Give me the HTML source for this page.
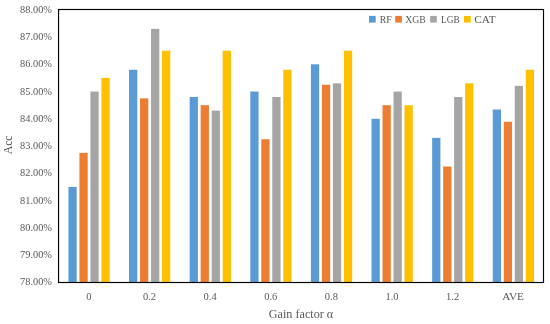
<!DOCTYPE html>
<html lang="en">
<head>
<meta charset="utf-8">
<title>Acc vs Gain factor</title>
<style>
html,body{margin:0;padding:0;background:#fff;}
body{width:550px;height:324px;overflow:hidden;}
svg{display:block;}
svg text{font-family:"Liberation Serif","DejaVu Serif",serif;fill:#595959;}
</style>
</head>
<body>
<svg width="550" height="324" viewBox="0 0 550 324">
<rect x="0" y="0" width="550" height="324" fill="#ffffff"/>
<g id="bars">
<rect x="68.43" y="186.93" width="8.26" height="95.07" fill="#5B9BD5"/>
<rect x="79.43" y="152.86" width="8.26" height="129.14" fill="#ED7D31"/>
<rect x="90.43" y="91.55" width="8.26" height="190.45" fill="#A5A5A5"/>
<rect x="101.43" y="77.93" width="8.26" height="204.07" fill="#FFC000"/>
<rect x="129.05" y="69.75" width="8.26" height="212.25" fill="#5B9BD5"/>
<rect x="140.05" y="98.36" width="8.26" height="183.64" fill="#ED7D31"/>
<rect x="151.05" y="28.88" width="8.26" height="253.12" fill="#A5A5A5"/>
<rect x="162.05" y="50.68" width="8.26" height="231.32" fill="#FFC000"/>
<rect x="189.67" y="97.00" width="8.26" height="185.00" fill="#5B9BD5"/>
<rect x="200.67" y="105.18" width="8.26" height="176.82" fill="#ED7D31"/>
<rect x="211.67" y="110.63" width="8.26" height="171.37" fill="#A5A5A5"/>
<rect x="222.66" y="50.68" width="8.26" height="231.32" fill="#FFC000"/>
<rect x="250.29" y="91.55" width="8.26" height="190.45" fill="#5B9BD5"/>
<rect x="261.29" y="139.24" width="8.26" height="142.76" fill="#ED7D31"/>
<rect x="272.28" y="97.00" width="8.26" height="185.00" fill="#A5A5A5"/>
<rect x="283.28" y="69.75" width="8.26" height="212.25" fill="#FFC000"/>
<rect x="310.91" y="64.30" width="8.26" height="217.70" fill="#5B9BD5"/>
<rect x="321.91" y="84.74" width="8.26" height="197.26" fill="#ED7D31"/>
<rect x="332.90" y="83.38" width="8.26" height="198.62" fill="#A5A5A5"/>
<rect x="343.90" y="50.68" width="8.26" height="231.32" fill="#FFC000"/>
<rect x="371.53" y="118.80" width="8.26" height="163.20" fill="#5B9BD5"/>
<rect x="382.52" y="105.18" width="8.26" height="176.82" fill="#ED7D31"/>
<rect x="393.52" y="91.55" width="8.26" height="190.45" fill="#A5A5A5"/>
<rect x="404.52" y="105.18" width="8.26" height="176.82" fill="#FFC000"/>
<rect x="432.15" y="137.88" width="8.26" height="144.12" fill="#5B9BD5"/>
<rect x="443.14" y="166.49" width="8.26" height="115.51" fill="#ED7D31"/>
<rect x="454.14" y="97.00" width="8.26" height="185.00" fill="#A5A5A5"/>
<rect x="465.14" y="83.38" width="8.26" height="198.62" fill="#FFC000"/>
<rect x="492.76" y="109.53" width="8.26" height="172.47" fill="#5B9BD5"/>
<rect x="503.76" y="121.80" width="8.26" height="160.20" fill="#ED7D31"/>
<rect x="514.76" y="85.83" width="8.26" height="196.17" fill="#A5A5A5"/>
<rect x="525.76" y="69.75" width="8.26" height="212.25" fill="#FFC000"/>
</g>
<rect x="58.55" y="9.5" width="484.95" height="273.0" fill="none" stroke="#000" stroke-width="1.15"/>
<g id="yticks" font-size="10.8" text-anchor="end">
<text x="52" y="285.40" textLength="32" lengthAdjust="spacingAndGlyphs">78.00%</text>
<text x="52" y="258.15" textLength="32" lengthAdjust="spacingAndGlyphs">79.00%</text>
<text x="52" y="230.90" textLength="32" lengthAdjust="spacingAndGlyphs">80.00%</text>
<text x="52" y="203.65" textLength="32" lengthAdjust="spacingAndGlyphs">81.00%</text>
<text x="52" y="176.40" textLength="32" lengthAdjust="spacingAndGlyphs">82.00%</text>
<text x="52" y="149.15" textLength="32" lengthAdjust="spacingAndGlyphs">83.00%</text>
<text x="52" y="121.90" textLength="32" lengthAdjust="spacingAndGlyphs">84.00%</text>
<text x="52" y="94.65" textLength="32" lengthAdjust="spacingAndGlyphs">85.00%</text>
<text x="52" y="67.40" textLength="32" lengthAdjust="spacingAndGlyphs">86.00%</text>
<text x="52" y="40.15" textLength="32" lengthAdjust="spacingAndGlyphs">87.00%</text>
<text x="52" y="12.90" textLength="32" lengthAdjust="spacingAndGlyphs">88.00%</text>
</g>
<g id="xticks" font-size="10.5" text-anchor="middle">
<text x="88.86" y="299.6">0</text>
<text x="149.48" y="299.6">0.2</text>
<text x="210.10" y="299.6">0.4</text>
<text x="270.72" y="299.6">0.6</text>
<text x="331.33" y="299.6">0.8</text>
<text x="391.95" y="299.6">1.0</text>
<text x="452.57" y="299.6">1.2</text>
<text x="513.19" y="299.6" textLength="21.6" lengthAdjust="spacingAndGlyphs">AVE</text>
</g>
<text x="301" y="318.2" font-size="11.5" text-anchor="middle" textLength="64.4" lengthAdjust="spacingAndGlyphs">Gain factor α</text>
<text transform="translate(12,144.9) rotate(-90)" font-size="11.5" text-anchor="middle" textLength="18.9" lengthAdjust="spacingAndGlyphs">Acc</text>
<g id="legend" font-size="11">
<rect x="369" y="15.9" width="6.7" height="6.7" fill="#5B9BD5"/>
<text x="379.7" y="22.9" textLength="12" lengthAdjust="spacingAndGlyphs">RF</text>
<rect x="395.2" y="15.9" width="6.7" height="6.7" fill="#ED7D31"/>
<text x="405.2" y="22.9" textLength="20.6" lengthAdjust="spacingAndGlyphs">XGB</text>
<rect x="430.1" y="15.9" width="6.7" height="6.7" fill="#A5A5A5"/>
<text x="441" y="22.9" textLength="18.6" lengthAdjust="spacingAndGlyphs">LGB</text>
<rect x="464" y="15.9" width="6.7" height="6.7" fill="#FFC000"/>
<text x="474.2" y="22.9" textLength="21.4" lengthAdjust="spacingAndGlyphs">CAT</text>
</g>
</svg>
</body>
</html>
